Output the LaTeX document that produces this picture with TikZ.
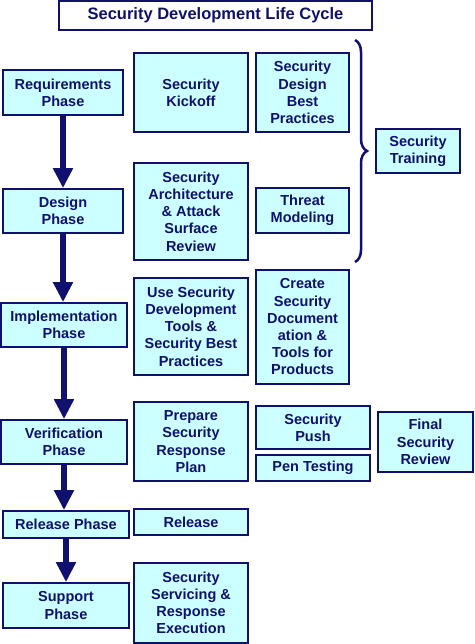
\documentclass[tikz,border=0pt]{standalone}
\usepackage{fontspec}
\setmainfont{Liberation Sans}
\usetikzlibrary{arrows.meta,decorations.pathreplacing}
\definecolor{navy}{RGB}{16,16,110}
\definecolor{boxfill}{RGB}{204,255,255}
\tikzset{
  box/.style={draw=navy, line width=1.8pt, fill=boxfill, text=navy,
    font=\bfseries\fontsize{14.5}{17.2}\selectfont, align=center, inner sep=0pt},
  titlebox/.style={box, fill=white, font=\bfseries\fontsize{16.5}{19}\selectfont},
  flow/.style={draw=navy, line width=5.5pt, -{Triangle[width=19pt,length=20pt]}},
  bracestyle/.style={draw=navy, line width=2.5pt, decorate, decoration={brace, amplitude=12pt}},
}
\newcommand\sdlbox[7][box]{\node[#1, minimum width={(#5)-(#3)}, minimum height={(#6)-(#4)}]
  (#2) at ({((#3)+(#5))/2},{((#4)+(#6))/2}) {#7};}
\begin{document}
\begin{tikzpicture}[x=1pt,y=-1pt]
\useasboundingbox (0,0) rectangle (474,644);
\sdlbox[titlebox]{title}{59}{1}{372}{30}{Security Development Life Cycle}
% phases
\sdlbox{req}{3}{70}{123}{115}{Requirements\\Phase}
\sdlbox{des}{3}{189}{123}{233}{Design\\Phase}
\sdlbox{imp}{1}{303}{127}{347}{Implementation\\Phase}
\sdlbox{ver}{1}{420}{127}{464}{Verification\\Phase}
\sdlbox{rel}{3}{511}{129}{538}{Release Phase}
\sdlbox{sup}{3}{583}{129}{628}{Support\\Phase}
% activities
\sdlbox{kick}{134}{53}{248}{132}{Security\\Kickoff}
\sdlbox{sdbp}{256}{53}{349}{132}{Security\\Design\\Best\\Practices}
\sdlbox{train}{376}{129}{460}{173}{Security\\Training}
\sdlbox{arch}{134}{163}{248}{260}{Security\\Architecture\\\& Attack\\Surface\\Review}
\sdlbox{threat}{256}{188}{349}{233}{Threat\\Modeling}
\sdlbox{tools}{134}{278}{248}{375}{Use Security\\Development\\Tools \&\\Security Best\\Practices}
\sdlbox{docs}{256}{270}{349}{384}{Create\\Security\\Document\\ation \&\\Tools for\\Products}
\sdlbox{resp}{134}{402}{248}{481}{Prepare\\Security\\Response\\Plan}
\sdlbox{push}{256}{406}{370}{449}{Security\\Push}
\sdlbox{pen}{256}{455}{370}{481}{Pen Testing}
\sdlbox{fsr}{378}{412}{473}{472}{Final\\Security\\Review}
\sdlbox{release}{134}{509}{248}{535}{Release}
\sdlbox{serv}{134}{563}{248}{643}{Security\\Servicing \&\\Response\\Execution}
% flow arrows
\draw[flow] (req.south) -- (req.south |- des.north);
\draw[flow] (des.south) -- (des.south |- imp.north);
\draw[flow] (imp.south) -- (imp.south |- ver.north);
\draw[flow] (ver.south) -- (ver.south |- rel.north);
\draw[flow] (rel.south) -- (rel.south |- sup.north);
% brace
\coordinate (btop) at (355,40);
\coordinate (bbot) at (355,262);
\draw[bracestyle] (btop) -- (bbot);
\end{tikzpicture}
\end{document}
